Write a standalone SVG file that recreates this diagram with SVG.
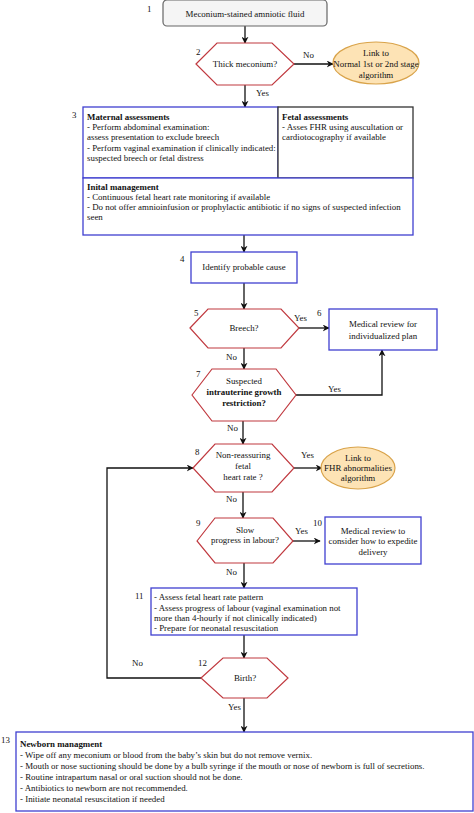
<svg xmlns="http://www.w3.org/2000/svg" width="474" height="813" viewBox="0 0 474 813">
<defs>
<marker id="ah" viewBox="0 0 10 10" refX="9" refY="5" markerWidth="7" markerHeight="7" orient="auto" markerUnits="userSpaceOnUse"><path d="M0,0 L10,5 L0,10 L3,5 Z" fill="#111"/></marker>
<style>
text{font-family:"Liberation Serif","Times New Roman",serif;font-size:8.9px;fill:#111}
.c{text-anchor:middle}
.b{font-weight:bold}
.hex{fill:#fff;stroke:#c0393f;stroke-width:1.2}
.blue{fill:#fff;stroke:#3f3fd0;stroke-width:1.3}
.dark{fill:#fff;stroke:#333;stroke-width:1.3}
.ell{fill:#fde3b5;stroke:#d9a34a;stroke-width:1.2}
.ln{fill:none;stroke:#111;stroke-width:1.3}
.arr{fill:none;stroke:#111;stroke-width:1.3;marker-end:url(#ah)}
</style>
</defs>
<rect width="474" height="813" fill="#fff"/>
<g id="connectors">
<line class="arr" x1="245" y1="26" x2="245" y2="43"/>
<line class="arr" x1="294" y1="64" x2="333" y2="64"/>
<line class="arr" x1="245" y1="85" x2="245" y2="107"/>
<line class="arr" x1="244" y1="235" x2="244" y2="252"/>
<line class="arr" x1="244" y1="283" x2="244" y2="309"/>
<line class="arr" x1="299" y1="328" x2="329" y2="328"/>
<line class="arr" x1="244" y1="348" x2="244" y2="369"/>
<polyline class="arr" points="296,395 382,395 382,350"/>
<line class="arr" x1="243" y1="421" x2="243" y2="444"/>
<line class="arr" x1="294" y1="468" x2="322" y2="468"/>
<line class="arr" x1="243" y1="492" x2="243" y2="518"/>
<line class="arr" x1="293" y1="541" x2="320" y2="541"/>
<line class="arr" x1="244" y1="563" x2="244" y2="588"/>
<line class="arr" x1="244" y1="635" x2="244" y2="658"/>
<polyline class="arr" points="201,678 107,678 107,468 193,468"/>
<line class="arr" x1="244" y1="698" x2="244" y2="732"/>
<text x="303" y="58">No</text>
<text x="256" y="96">Yes</text>
<text x="294" y="321">Yes</text>
<text x="226" y="360">No</text>
<text x="328" y="392">Yes</text>
<text x="227" y="431">No</text>
<text x="301" y="458">Yes</text>
<text x="226" y="502">No</text>
<text x="295" y="534">Yes</text>
<text x="226" y="575">No</text>
<text x="132" y="666">No</text>
<text x="228" y="710">Yes</text>
</g>
<g id="n1">
<rect x="163" y="0" width="164" height="26" rx="4" fill="#f5f5f5" stroke="#666" stroke-width="1.2"/>
<text class="c" x="245" y="17">Meconium-stained amniotic fluid</text>
<text x="147" y="12">1</text>
</g>
<g id="n2">
<polygon class="hex" points="196,64 217,43 272,43 294,64 272,85 217,85"/>
<text class="c" x="245" y="67">Thick meconium?</text>
<text x="196" y="55">2</text>
</g>
<g id="link1">
<ellipse class="ell" cx="376" cy="63" rx="43" ry="21"/>
<text class="c" x="376" y="56">Link to</text>
<text class="c" x="376" y="67">Normal 1st or 2nd stage</text>
<text class="c" x="376" y="78">algorithm</text>
</g>
<g id="n3">
<rect class="blue" x="83" y="107" width="195" height="71"/>
<rect class="dark" x="278" y="107" width="135" height="71"/>
<rect class="blue" x="83" y="178" width="330" height="57"/>
<text x="72" y="118">3</text>
<text class="b" x="87" y="120">Maternal assessments</text>
<text x="87" y="130">- Perform abdominal examination:</text>
<text x="87" y="140">assess presentation to exclude breech</text>
<text x="87" y="151">- Perform vaginal examination if clinically indicated:</text>
<text x="87" y="161">suspected breech or fetal distress</text>
<text class="b" x="282" y="120">Fetal assessments</text>
<text x="282" y="130"> - Asses FHR using auscultation or</text>
<text x="282" y="140">cardiotocography if available</text>
<text class="b" x="87" y="190">Inital management</text>
<text x="87" y="200">- Continuous fetal heart rate monitoring if available</text>
<text x="87" y="210">- Do not offer amnioinfusion or prophylactic antibiotic if no signs of suspected infection</text>
<text x="87" y="220">seen</text>
</g>
<g id="n4">
<rect class="blue" x="191" y="252" width="106" height="31"/>
<text class="c" x="244" y="270">Identify probable cause</text>
<text x="180" y="262">4</text>
</g>
<g id="n5">
<polygon class="hex" points="190,328 208,309 281,309 299,328 281,348 208,348"/>
<text class="c" x="244" y="331">Breech?</text>
<text x="194" y="316">5</text>
</g>
<g id="n6">
<rect class="blue" x="329" y="309" width="108" height="41"/>
<text class="c" x="383" y="327">Medical review for</text>
<text class="c" x="383" y="339">individualized plan</text>
<text x="317" y="316">6</text>
</g>
<g id="n7">
<polygon class="hex" points="192,395 212,369 276,369 296,395 276,421 212,421"/>
<text class="c" x="244" y="384">Suspected</text>
<text class="c b" x="244" y="395">intrauterine growth</text>
<text class="c b" x="244" y="406">restriction?</text>
<text x="196" y="377">7</text>
</g>
<g id="n8">
<polygon class="hex" points="193,468 215,444 272,444 294,468 272,492 215,492"/>
<text class="c" x="243" y="458">Non-reassuring</text>
<text class="c" x="243" y="469">fetal</text>
<text class="c" x="243" y="480">heart rate ?</text>
<text x="195" y="455">8</text>
</g>
<g id="link2">
<ellipse class="ell" cx="358" cy="468" rx="37" ry="21"/>
<text class="c" x="358" y="461">Link to</text>
<text class="c" x="358" y="471">FHR abnormalities</text>
<text class="c" x="358" y="481">algorithm</text>
</g>
<g id="n9">
<polygon class="hex" points="197,541 215,518 273,518 293,541 273,563 215,563"/>
<text class="c" x="245" y="533">Slow</text>
<text class="c" x="245" y="543">progress in labour?</text>
<text x="196" y="526">9</text>
</g>
<g id="n10">
<rect class="blue" x="325" y="517" width="96" height="47"/>
<text class="c" x="373" y="534">Medical review to</text>
<text class="c" x="373" y="544">consider how to expedite</text>
<text class="c" x="373" y="555">delivery</text>
<text x="313" y="526">10</text>
</g>
<g id="n11">
<rect class="blue" x="151" y="588" width="206" height="47"/>
<text x="135" y="599">11</text>
<text x="154" y="600">- Assess fetal heart rate pattern</text>
<text x="154" y="611">- Assess progress of labour (vaginal examination not</text>
<text x="154" y="621">more than 4-hourly if not clinically indicated)</text>
<text x="154" y="631">- Prepare for neonatal resuscitation</text>
</g>
<g id="n12">
<polygon class="hex" points="201,678 223,658 267,658 288,678 267,698 223,698"/>
<text class="c" x="245" y="681">Birth?</text>
<text x="198" y="666">12</text>
</g>
<g id="n13">
<rect class="blue" x="16" y="732" width="457" height="79" stroke-width="2"/>
<text x="1" y="743">13</text>
<text class="b" x="20" y="747">Newborn managment</text>
<text x="20" y="758">- Wipe off any meconium or blood from the baby’s skin but do not remove vernix.</text>
<text x="20" y="769">- Mouth or nose suctioning should be done by a bulb syringe if the mouth or nose of newborn is full of secretions.</text>
<text x="20" y="780">- Routine intrapartum nasal or oral suction should not be done.</text>
<text x="20" y="791">- Antibiotics to newborn are not recommended.</text>
<text x="20" y="802">- Initiate neonatal resuscitation if needed</text>
</g>
</svg>
